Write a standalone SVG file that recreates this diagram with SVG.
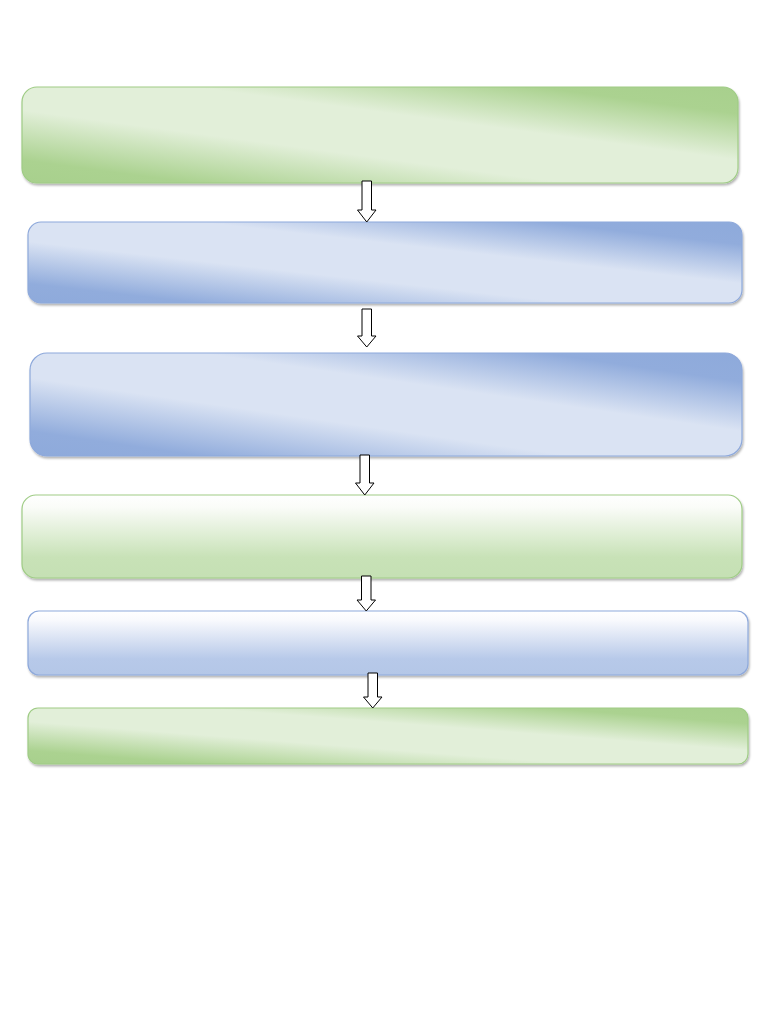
<svg xmlns="http://www.w3.org/2000/svg" width="768" height="1024" viewBox="0 0 768 1024">
<defs>
<linearGradient id="gDiag" x1="0" y1="1" x2="1" y2="0">
<stop offset="0" stop-color="#a8d08d"/>
<stop offset="0.12" stop-color="#abd290"/>
<stop offset="0.38" stop-color="#e2efd9"/>
<stop offset="0.62" stop-color="#e2efd9"/>
<stop offset="0.86" stop-color="#abd290"/>
<stop offset="1" stop-color="#a8d08d"/>
</linearGradient>
<linearGradient id="bDiag" x1="0" y1="1" x2="1" y2="0">
<stop offset="0" stop-color="#8eaadb"/>
<stop offset="0.12" stop-color="#91acdc"/>
<stop offset="0.38" stop-color="#dae3f3"/>
<stop offset="0.62" stop-color="#dae3f3"/>
<stop offset="0.86" stop-color="#91acdc"/>
<stop offset="1" stop-color="#8eaadb"/>
</linearGradient>
<linearGradient id="gVert" x1="0" y1="0" x2="0" y2="1">
<stop offset="0" stop-color="#ffffff"/>
<stop offset="0.15" stop-color="#fafcf8"/>
<stop offset="0.75" stop-color="#c8e2b7"/>
<stop offset="1" stop-color="#c5e0b4"/>
</linearGradient>
<linearGradient id="bVert" x1="0" y1="0" x2="0" y2="1">
<stop offset="0" stop-color="#ffffff"/>
<stop offset="0.15" stop-color="#f8f9fd"/>
<stop offset="0.75" stop-color="#b7c9e9"/>
<stop offset="1" stop-color="#b4c7e7"/>
</linearGradient>
<filter id="sh" x="-5%" y="-10%" width="110%" height="130%">
<feDropShadow dx="1" dy="2" stdDeviation="0.8" flood-color="#000" flood-opacity="0.3"/>
</filter>
</defs>
<style>
.g{stroke:#9fcc85;stroke-width:1.2;filter:url(#sh)}
.b{stroke:#8ea9db;stroke-width:1.2;filter:url(#sh)}
.arr{fill:#ffffff;stroke:#000000;stroke-width:1;stroke-linejoin:miter}
</style>
<rect width="768" height="1024" fill="#ffffff"/>
<g id="node1"><rect class="g" x="22" y="87" width="716" height="96" rx="15" fill="url(#gDiag)"/></g>
<g id="node2"><rect class="b" x="28" y="222" width="714" height="81" rx="13" fill="url(#bDiag)"/></g>
<g id="node3"><rect class="b" x="30" y="353" width="712" height="103" rx="17" fill="url(#bDiag)"/></g>
<g id="node4"><rect class="g" x="22" y="495" width="720" height="83" rx="14" fill="url(#gVert)"/></g>
<g id="node5"><rect class="b" x="28" y="611" width="720" height="64" rx="11" fill="url(#bVert)"/></g>
<g id="node6"><rect class="g" x="28" y="708" width="720" height="56" rx="10" fill="url(#gDiag)"/></g>
<g id="connectors">
<path class="arr" d="M362,181 H371.5 V210 H376 L366.75,222 L357.5,210 H362 Z"/>
<path class="arr" d="M362,309 H371.5 V336 H376 L366.75,347 L357.5,336 H362 Z"/>
<path class="arr" d="M360,455 H369.5 V483 H374 L364.75,495 L355.5,483 H360 Z"/>
<path class="arr" d="M361.5,576 H371 V600 H375.5 L366.25,611 L357,600 H361.5 Z"/>
<path class="arr" d="M368,673 H377.5 V697 H382 L372.75,708 L363.5,697 H368 Z"/>
</g>
</svg>
